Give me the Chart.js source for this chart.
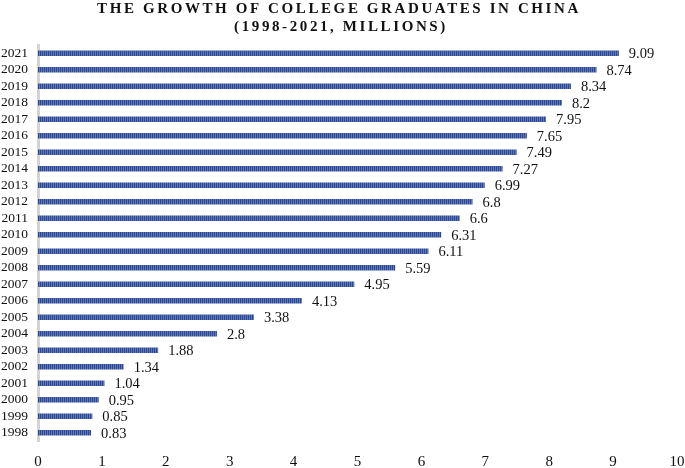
<!DOCTYPE html>
<html>
<head>
<meta charset="utf-8">
<script src="https://cdn.jsdelivr.net/npm/chart.js@4"></script>
<style>
html,body{margin:0;padding:0;background:#fff;}
#wrap{width:685px;height:468px;position:relative;}
</style>
</head>
<body>
<div id="wrap"><canvas id="c" width="685" height="468"></canvas></div>
<script>
const titleLines = ["THE GROWTH OF COLLEGE GRADUATES IN CHINA", "(1998-2021, MILLIONS)"];
const years = ["1998","1999","2000","2001","2002","2003","2004","2005","2006","2007","2008","2009","2010","2011","2012","2013","2014","2015","2016","2017","2018","2019","2020","2021"];
const graduates = [0.83,0.85,0.95,1.04,1.34,1.88,2.8,3.38,4.13,4.95,5.59,6.11,6.31,6.6,6.8,6.99,7.27,7.49,7.65,7.95,8.2,8.34,8.74,9.09];
const valueLabels = ["0.83","0.85","0.95","1.04","1.34","1.88","2.8","3.38","4.13","4.95","5.59","6.11","6.31","6.6","6.8","6.99","7.27","7.49","7.65","7.95","8.2","8.34","8.74","9.09"];
const xTicks = [0,1,2,3,4,5,6,7,8,9,10];

const pc = document.createElement('canvas');
pc.width = 2; pc.height = 2;
const pctx = pc.getContext('2d');
pctx.fillStyle = '#2c4894'; pctx.fillRect(0,0,1,2);
pctx.fillStyle = '#6078b6'; pctx.fillRect(1,0,1,2);
const ctx0 = document.getElementById('c').getContext('2d');
const barPattern = ctx0.createPattern(pc, 'repeat');

const titlePlugin = {
  id: 'customTitle',
  afterDraw(chart) {
    const ctx = chart.ctx;
    ctx.save();
    ctx.font = 'bold 15px "Liberation Serif", "Times New Roman", serif';
    ctx.fillStyle = '#111';
    ctx.textAlign = 'center';
    ctx.textBaseline = 'middle';
    try { ctx.letterSpacing = '2.6px'; } catch(e) {}
    ctx.fillText(titleLines[0], 339, 9.5);
    ctx.fillText(titleLines[1], 341, 27);
    ctx.restore();
  }
};

const valuePlugin = {
  id: 'valueLabels',
  afterDatasetsDraw(chart) {
    const ctx = chart.ctx;
    const meta = chart.getDatasetMeta(0);
    ctx.save();
    ctx.font = '14.5px "Liberation Serif", "Times New Roman", serif';
    ctx.fillStyle = '#111';
    ctx.textAlign = 'left';
    ctx.textBaseline = 'middle';
    meta.data.forEach((el, i) => {
      ctx.fillText(valueLabels[i], el.x + 10, el.y + 1);
    });
    ctx.restore();
  }
};

new Chart(document.getElementById('c'), {
  type: 'bar',
  data: {
    labels: years,
    datasets: [{
      data: graduates,
      backgroundColor: barPattern,
      borderWidth: 0,
      barPercentage: 0.34,
      categoryPercentage: 1.0
    }]
  },
  options: {
    indexAxis: 'y',
    responsive: false,
    animation: false,
    events: [],
    layout: { padding: { top: 45, right: 8, left: 0, bottom: 0 } },
    plugins: { legend: { display: false }, tooltip: { enabled: false }, title: { display: false } },
    scales: {
      x: {
        min: 0, max: 10,
        afterBuildTicks(scale) { scale.ticks = xTicks.map(v => ({ value: v })); },
        grid: { display: false, drawTicks: false },
        border: { display: false },
        ticks: {
          color: '#111',
          padding: 12,
          maxRotation: 0,
          font: { family: '"Liberation Serif", "Times New Roman", serif', size: 15 }
        },
        afterFit(scale) { scale.height = 27; scale.paddingRight = 0; scale.paddingLeft = 0; }
      },
      y: {
        reverse: true,
        grid: { display: false, drawTicks: false },
        border: { display: true, color: '#d3d3d3', width: 3 },
        ticks: {
          color: '#111',
          padding: 10,
          autoSkip: false,
          font: { family: '"Liberation Serif", "Times New Roman", serif', size: 13.5 }
        },
        afterFit(scale) { scale.width = 38; }
      }
    }
  },
  plugins: [titlePlugin, valuePlugin]
});
</script>
</body>
</html>
